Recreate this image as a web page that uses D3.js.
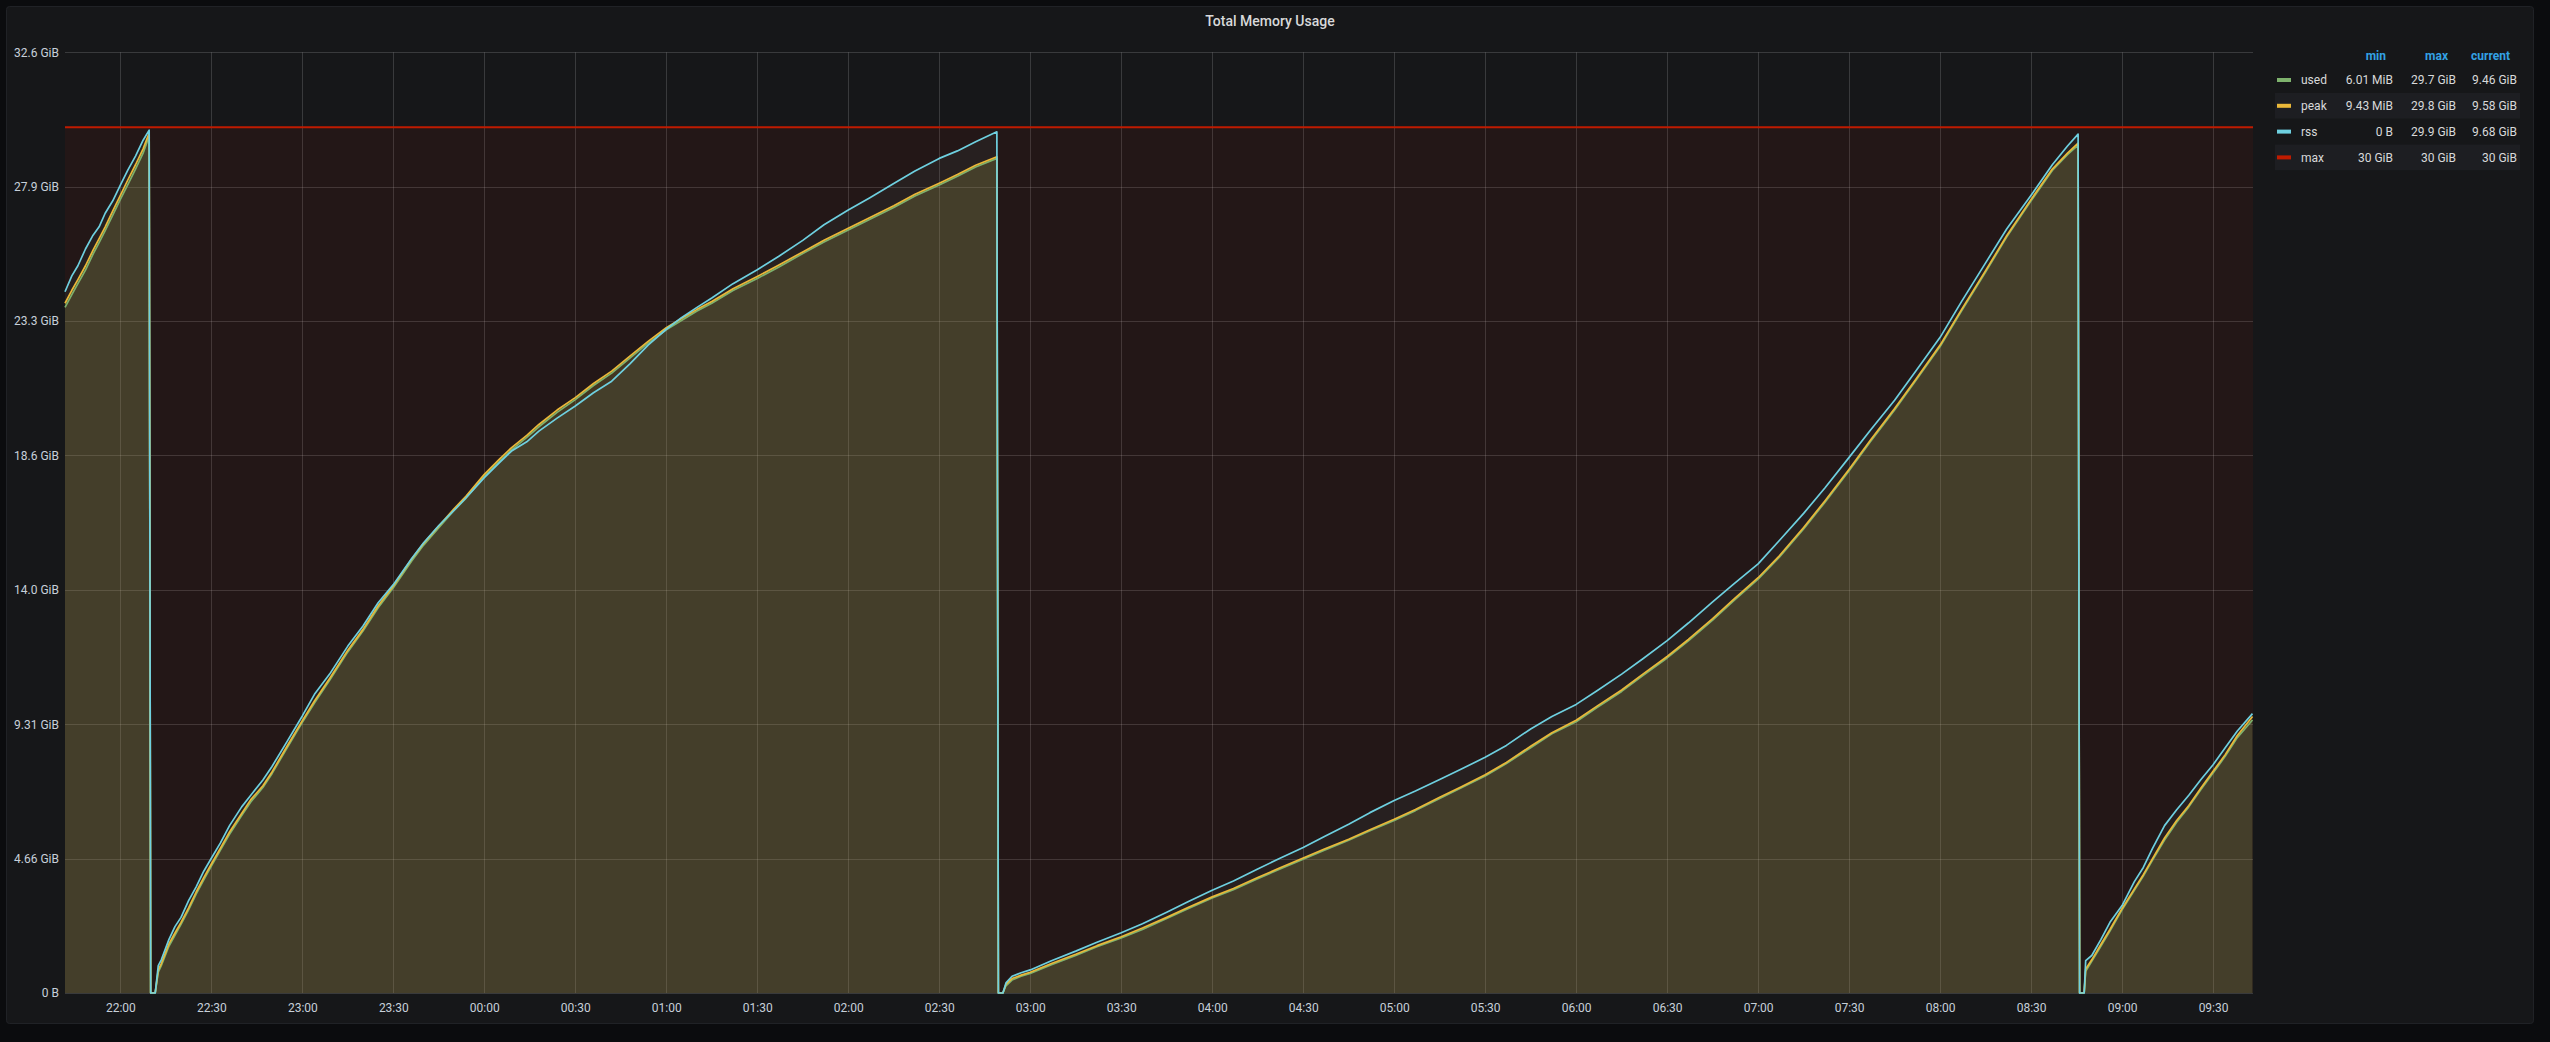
<!DOCTYPE html>
<html>
<head>
<meta charset="utf-8">
<title>Total Memory Usage</title>
<script src="https://cdn.jsdelivr.net/npm/d3@7/dist/d3.min.js"></script>
<style>
  html, body { margin: 0; padding: 0; background: #0b0c0e; }
  svg { display: block; font-family: Roboto, 'Noto Sans', sans-serif; }
</style>
</head>
<body>
<svg id="chart" width="2550" height="1042"></svg>
<script>
// Sample times (evening -> next morning), values in GiB
const times = [
  '21:41:45', '21:44:00', '21:46:00', '21:48:30', '21:51:00', '21:53:00', '21:55:00', '21:57:30',
  '22:00:00', '22:02:30', '22:05:00', '22:07:30', '22:09:30',
  '22:10:00', '22:11:30', '22:12:30', '22:13:30', '22:16:00', '22:18:00', '22:20:00', '22:22:30',
  '22:25:00', '22:27:30', '22:30:00', '22:33:00', '22:36:00', '22:40:00', '22:43:00', '22:47:00',
  '22:50:00', '22:55:00', '23:00:00', '23:04:00', '23:09:00', '23:15:00', '23:20:00', '23:25:00',
  '23:30:00', '23:36:00', '23:40:00', '23:45:00', '23:50:00', '23:54:00', '00:00:00', '00:05:00',
  '00:09:00', '00:14:00', '00:18:00', '00:24:00', '00:30:00', '00:36:00', '00:42:00', '00:48:00',
  '00:54:00', '01:00:00', '01:05:00', '01:10:00', '01:15:00', '01:22:00', '01:30:00', '01:37:00',
  '01:45:00', '01:52:00', '02:00:00', '02:07:00', '02:15:00', '02:22:00', '02:30:00', '02:36:00',
  '02:42:00', '02:49:00',
  '02:49:30', '02:51:00', '02:52:00', '02:54:00', '02:57:00', '03:00:00', '03:07:00', '03:15:00',
  '03:22:00', '03:30:00', '03:37:00', '03:45:00', '03:52:00', '04:00:00', '04:07:00', '04:15:00',
  '04:22:00', '04:30:00', '04:37:00', '04:45:00', '04:52:00', '05:00:00', '05:07:00', '05:15:00',
  '05:22:00', '05:30:00', '05:37:00', '05:45:00', '05:52:00', '06:00:00', '06:07:00', '06:15:00',
  '06:22:00', '06:30:00', '06:37:00', '06:45:00', '06:52:00', '07:00:00', '07:07:00', '07:15:00',
  '07:22:00', '07:30:00', '07:37:00', '07:45:00', '07:52:00', '08:00:00', '08:07:00', '08:15:00',
  '08:22:00', '08:30:00', '08:37:00', '08:42:00', '08:45:30',
  '08:46:00', '08:47:30', '08:48:00', '08:50:00', '08:53:00', '08:56:00', '09:00:00', '09:04:00',
  '09:07:00', '09:10:00', '09:14:00', '09:18:00', '09:22:00', '09:26:00', '09:30:00', '09:34:00',
  '09:38:00', '09:43:00'
]

const usedGiB = [
  23.76, 24.20, 24.58, 25.05, 25.60, 26.00, 26.42, 26.95,
  27.50, 28.02, 28.55, 29.10, 29.70,
  0.0059, 0.0059, 0.72, 0.95, 1.62, 2.00, 2.38, 2.88,
  3.43, 3.92, 4.40, 4.95, 5.50, 6.15, 6.62, 7.12,
  7.60, 8.50, 9.38, 10.05, 10.84, 11.82, 12.54, 13.35,
  14.04, 14.96, 15.52, 16.12, 16.72, 17.15, 17.90, 18.42,
  18.82, 19.25, 19.62, 20.12, 20.56, 21.05, 21.48, 22.00,
  22.52, 22.98, 23.30, 23.62, 23.90, 24.34, 24.76, 25.15,
  25.62, 26.02, 26.44, 26.80, 27.22, 27.62, 28.00, 28.30,
  28.62, 28.92,
  0.0059, 0.0059, 0.25, 0.45, 0.58, 0.68, 0.98, 1.30,
  1.60, 1.91, 2.20, 2.58, 2.92, 3.29, 3.58, 3.96,
  4.28, 4.64, 4.95, 5.29, 5.62, 5.98, 6.32, 6.74,
  7.10, 7.52, 7.95, 8.50, 8.98, 9.40, 9.90, 10.45,
  11.00, 11.61, 12.20, 12.92, 13.60, 14.34, 15.10, 16.08,
  17.00, 18.10, 19.10, 20.20, 21.22, 22.40, 23.62, 24.98,
  26.20, 27.45, 28.50, 29.05, 29.38,
  0.0059, 0.0059, 0.75, 1.10, 1.62, 2.15, 2.88, 3.55,
  4.05, 4.60, 5.30, 5.92, 6.45, 7.05, 7.62, 8.20,
  8.85, 9.46
]

const peakGiB = [
  23.90, 24.35, 24.72, 25.20, 25.74, 26.14, 26.55, 27.10,
  27.64, 28.18, 28.70, 29.25, 29.80,
  0.0092, 0.0092, 0.80, 1.02, 1.70, 2.08, 2.45, 2.95,
  3.50, 4.00, 4.47, 5.02, 5.58, 6.22, 6.70, 7.18,
  7.66, 8.56, 9.44, 10.12, 10.90, 11.88, 12.60, 13.42,
  14.10, 15.03, 15.58, 16.18, 16.78, 17.22, 17.97, 18.50,
  18.90, 19.32, 19.70, 20.20, 20.63, 21.12, 21.55, 22.07,
  22.58, 23.05, 23.37, 23.68, 23.96, 24.40, 24.83, 25.22,
  25.68, 26.08, 26.50, 26.86, 27.28, 27.68, 28.06, 28.36,
  28.68, 28.98,
  0.0092, 0.0092, 0.30, 0.50, 0.62, 0.72, 1.02, 1.34,
  1.64, 1.95, 2.25, 2.62, 2.96, 3.33, 3.62, 4.00,
  4.32, 4.68, 4.99, 5.33, 5.66, 6.02, 6.36, 6.78,
  7.14, 7.56, 7.99, 8.55, 9.02, 9.45, 9.95, 10.50,
  11.05, 11.66, 12.25, 12.97, 13.65, 14.39, 15.15, 16.13,
  17.05, 18.15, 19.15, 20.25, 21.27, 22.45, 23.67, 25.03,
  26.25, 27.50, 28.55, 29.10, 29.45,
  0.0092, 0.0092, 0.83, 1.15, 1.68, 2.20, 2.93, 3.60,
  4.10, 4.65, 5.37, 5.98, 6.50, 7.10, 7.68, 8.26,
  8.92, 9.58
]

const rssGiB = [
  24.30, 24.85, 25.20, 25.78, 26.26, 26.55, 27.02, 27.45,
  27.99, 28.52, 29.00, 29.55, 29.90,
  0, 0, 0.95, 1.15, 1.85, 2.30, 2.62, 3.20,
  3.68, 4.22, 4.67, 5.20, 5.80, 6.45, 6.85, 7.38,
  7.85, 8.72, 9.60, 10.35, 11.05, 12.02, 12.72, 13.52,
  14.15, 15.05, 15.60, 16.20, 16.72, 17.16, 17.86, 18.38,
  18.78, 19.10, 19.47, 19.92, 20.34, 20.80, 21.20, 21.80,
  22.45, 23.00, 23.40, 23.75, 24.08, 24.58, 25.06, 25.52,
  26.08, 26.62, 27.13, 27.55, 28.05, 28.48, 28.92, 29.18,
  29.50, 29.84,
  0, 0, 0.35, 0.58, 0.70, 0.80, 1.12, 1.45,
  1.76, 2.09, 2.40, 2.80, 3.16, 3.56, 3.88, 4.30,
  4.65, 5.04, 5.42, 5.85, 6.25, 6.67, 7.00, 7.40,
  7.75, 8.17, 8.58, 9.15, 9.58, 10.00, 10.48, 11.05,
  11.58, 12.21, 12.82, 13.55, 14.18, 14.87, 15.68, 16.62,
  17.50, 18.56, 19.50, 20.54, 21.55, 22.72, 23.95, 25.30,
  26.48, 27.64, 28.70, 29.35, 29.76,
  0, 0, 1.12, 1.30, 1.85, 2.45, 3.03, 3.85,
  4.35, 5.00, 5.80, 6.35, 6.85, 7.40, 7.91, 8.50,
  9.08, 9.68
]

const maxTimes = ['21:41:45', '09:43:10']
const maxGiB = [30, 30]

const xDomain = ['21:41:45', '09:43:10']
const yTickBytes = [0, 5e9, 10e9, 15e9, 20e9, 25e9, 30e9, 35e9]
const yTickLabels = ['0 B', '4.66 GiB', '9.31 GiB', '14.0 GiB', '18.6 GiB', '23.3 GiB', '27.9 GiB', '32.6 GiB']

const legendNames = ['used', 'peak', 'rss', 'max']
const legendColors = ['#7eb26d', '#eab839', '#6ed0e0', '#bf1b00']
const legendMin = ['6.01 MiB', '9.43 MiB', '0 B', '30 GiB']
const legendMax = ['29.7 GiB', '29.8 GiB', '29.9 GiB', '30 GiB']
const legendCurrent = ['9.46 GiB', '9.58 GiB', '9.68 GiB', '30 GiB']

const GiB = Math.pow(2, 30)

// Times before noon belong to the next day
function parseTime (s) {
  const [h, m, sec] = s.split(':').map(Number)
  return new Date(2020, 0, h >= 12 ? 1 : 2, h, m, sec)
}

const svg = d3.select('#chart')

// Panel
svg.append('rect')
  .attr('x', 6.5).attr('y', 6.5)
  .attr('width', 2527).attr('height', 1017)
  .attr('rx', 3)
  .attr('fill', '#161719')
  .attr('stroke', '#202226')

svg.append('text')
  .attr('x', 1270).attr('y', 26)
  .attr('text-anchor', 'middle')
  .attr('fill', '#d8d9da')
  .style('font-size', '14px')
  .style('font-weight', 500)
  .text('Total Memory Usage')

const plotLeft = 65
const plotRight = 2253
const plotTop = 52.3
const plotBottom = 993

const x = d3.scaleTime()
  .domain(xDomain.map(parseTime))
  .range([plotLeft, plotRight])

const y = d3.scaleLinear()
  .domain([0, 35e9 / GiB])
  .range([plotBottom, plotTop])

const plot = svg.append('g')

// Grid
const gridColor = 'rgba(200,200,200,0.2)'
const xTicks = x.ticks(d3.timeMinute.every(30))
plot.append('g').selectAll('line')
  .data(xTicks)
  .join('line')
  .attr('x1', d => Math.round(x(d)) + 0.5).attr('x2', d => Math.round(x(d)) + 0.5)
  .attr('y1', plotTop).attr('y2', plotBottom)
  .attr('stroke', gridColor)
plot.append('g').selectAll('line')
  .data(yTickBytes)
  .join('line')
  .attr('x1', plotLeft).attr('x2', plotRight)
  .attr('y1', d => Math.round(y(d / GiB)) + 0.5).attr('y2', d => Math.round(y(d / GiB)) + 0.5)
  .attr('stroke', gridColor)

// Axes
const yAxis = d3.axisLeft(y)
  .tickValues(yTickBytes.map(d => d / GiB))
  .tickFormat((d, i) => yTickLabels[i])
  .tickSize(0)
  .tickPadding(6)
const yAxisG = svg.append('g')
  .attr('transform', `translate(${plotLeft}, 0)`)
  .call(yAxis)

const xAxis = d3.axisBottom(x)
  .tickValues(xTicks)
  .tickFormat(d3.timeFormat('%H:%M'))
  .tickSize(0)
  .tickPadding(10)
const xAxisG = svg.append('g')
  .attr('transform', `translate(0, ${plotBottom})`)
  .call(xAxis)

;[xAxisG, yAxisG].forEach(g => {
  g.select('.domain').remove()
  g.selectAll('text')
    .attr('fill', '#c7d0d9')
    .style('font-size', '12px')
    .style('font-family', 'Roboto, sans-serif')
})

// Series (fill strength tuned to the panel's look)
const tDates = times.map(parseTime)
const series = [
  { name: 'max', color: legendColors[3], fill: 0.08, t: maxTimes.map(parseTime), v: maxGiB },
  { name: 'used', color: legendColors[0], fill: 0.08, t: tDates, v: usedGiB },
  { name: 'peak', color: legendColors[1], fill: 0.13, t: tDates, v: peakGiB },
  { name: 'rss', color: legendColors[2], fill: 0.05, t: tDates, v: rssGiB }
]

const area = d3.area()
  .x(d => x(d[0]))
  .y0(y(0))
  .y1(d => y(d[1]))
const line = d3.line()
  .x(d => x(d[0]))
  .y(d => y(d[1]))

series.forEach(s => {
  const pts = s.t.map((t, i) => [t, s.v[i]])
  plot.append('path')
    .datum(pts)
    .attr('d', area)
    .attr('fill', s.color)
    .attr('fill-opacity', s.fill)
})

// used, peak, rss lines first; max line on top
;[1, 2, 3, 0].forEach(k => {
  const s = series[k]
  const pts = s.t.map((t, i) => [t, s.v[i]])
  plot.append('path')
    .datum(pts)
    .attr('d', line)
    .attr('fill', 'none')
    .attr('stroke', s.color)
    .attr('stroke-width', k === 0 ? 2 : 1.7)
    .attr('stroke-linejoin', 'round')
})

// Legend table
const legend = svg.append('g')
  .style('font-size', '12px')
const colRight = [2393, 2456, 2517]
const headRight = [2386, 2448, 2510]
const rowY = [80, 105.8, 131.6, 157.4]

legend.selectAll('text.head')
  .data(['min', 'max', 'current'])
  .join('text')
  .attr('class', 'head')
  .attr('x', (d, i) => headRight[i])
  .attr('y', 60)
  .attr('text-anchor', 'end')
  .attr('fill', '#33a2e5')
  .style('font-weight', 700)
  .text(d => d)

legendNames.forEach((name, i) => {
  const row = legend.append('g')
  if (i % 2 === 1) {
    row.append('rect')
      .attr('x', 2275).attr('y', rowY[i] - 12.8)
      .attr('width', 245).attr('height', 25.6)
      .attr('fill', '#1d1e22')
  }
  row.append('rect')
    .attr('x', 2277).attr('y', rowY[i] - 2)
    .attr('width', 14).attr('height', 4)
    .attr('fill', legendColors[i])
  row.append('text')
    .attr('x', 2301).attr('y', rowY[i] + 4.3)
    .attr('fill', '#d8d9da')
    .text(name)
  ;[legendMin[i], legendMax[i], legendCurrent[i]].forEach((v, j) => {
    row.append('text')
      .attr('x', colRight[j]).attr('y', rowY[i] + 4.3)
      .attr('text-anchor', 'end')
      .attr('fill', '#d8d9da')
      .text(v)
  })
})
</script>
</body>
</html>
